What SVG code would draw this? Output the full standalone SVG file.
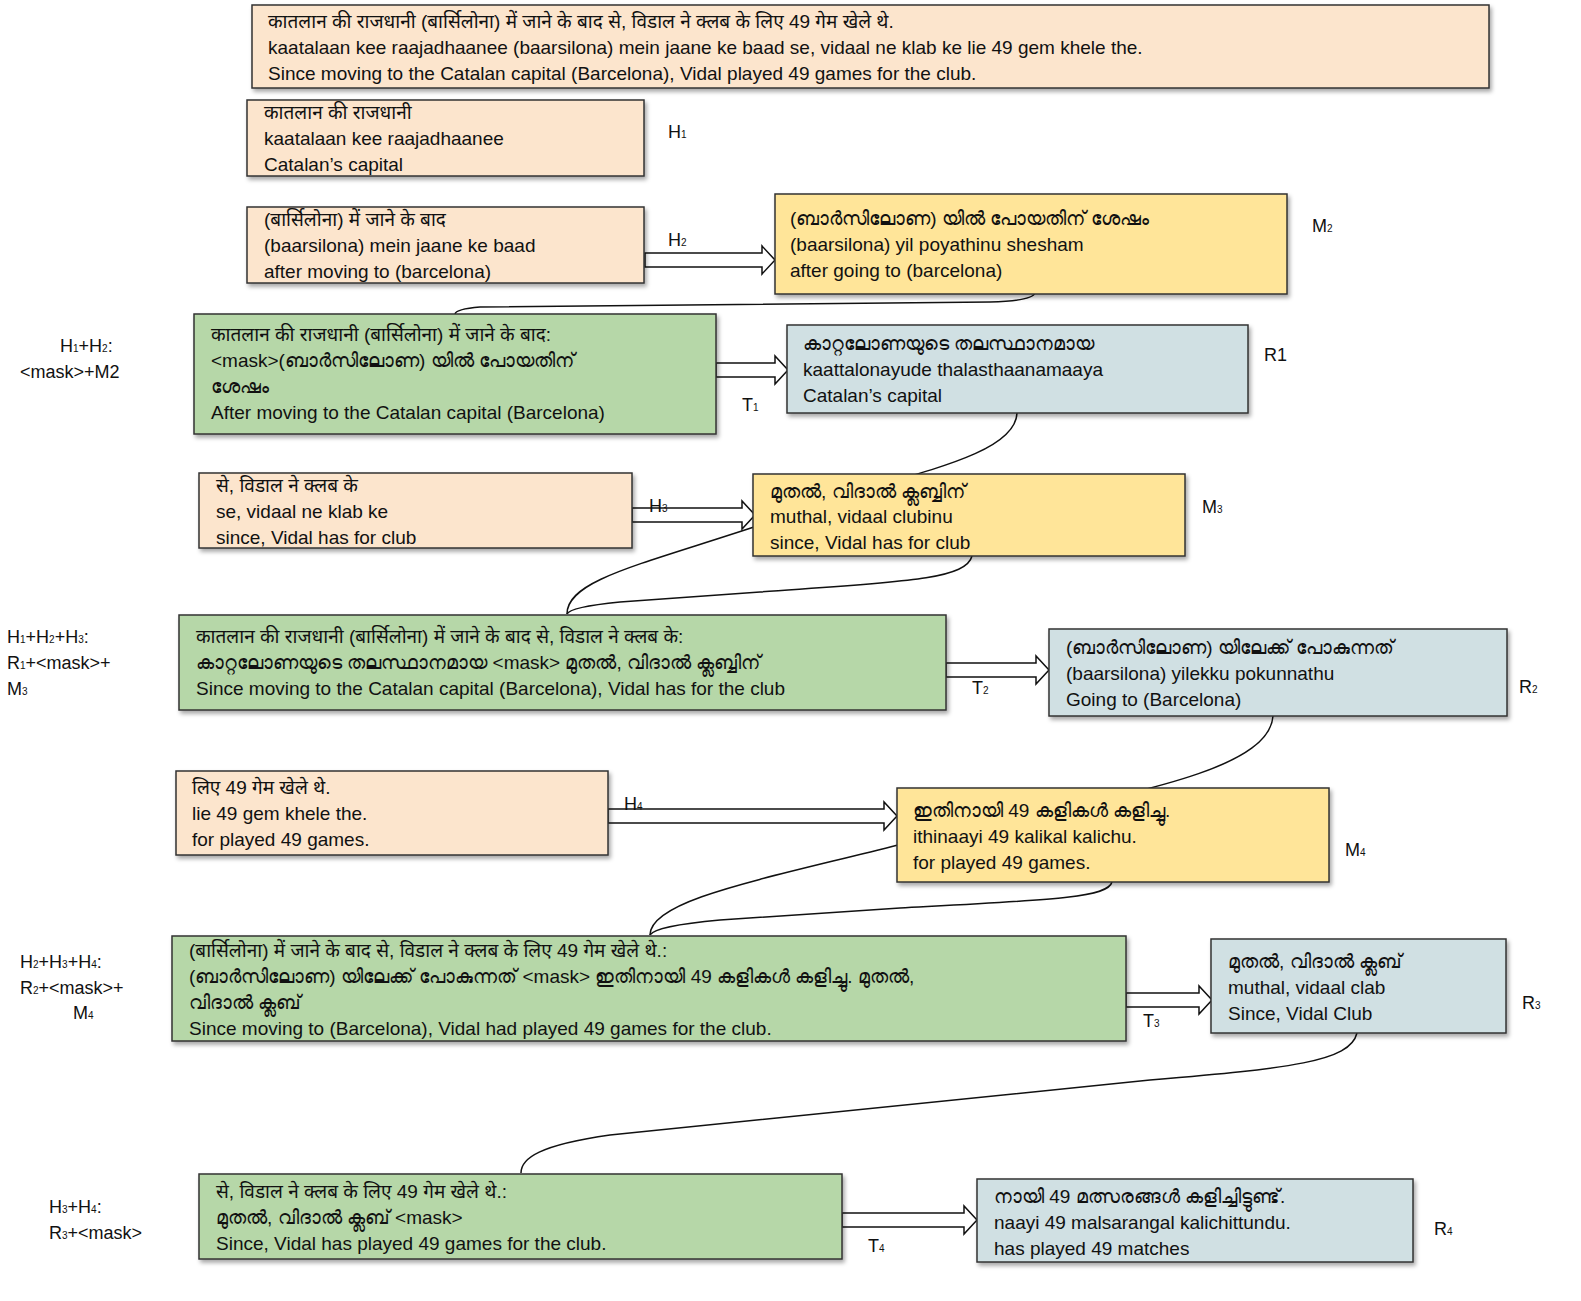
<svg xmlns="http://www.w3.org/2000/svg" width="1581" height="1301" viewBox="0 0 1581 1301">
<defs>
<filter id="sh" x="-5%" y="-10%" width="110%" height="130%"><feDropShadow dx="2" dy="3" stdDeviation="2" flood-color="#000" flood-opacity="0.35"/></filter>
</defs>
<style>
text{font-family:"Liberation Sans","Noto Sans",Arial,sans-serif;font-size:19px;fill:#111}
.lb{font-size:18px}
.sb{font-size:10px}
rect{stroke:#333;stroke-width:1.5;filter:url(#sh)}
.p{fill:#fce5cd}.y{fill:#ffe599}.g{fill:#b6d7a8}.b{fill:#d0e0e3}
.ar{fill:#fff;stroke:#111;stroke-width:1.5}
.c{fill:none;stroke:#111;stroke-width:1.5}
</style>
<rect width="1581" height="1301" fill="#fff" style="filter:none;stroke:none"/>
<g id="connectors">
<polygon class="ar" points="645,253 762,253 762,246 775,260 762,274 762,267 645,267"/>
<polygon class="ar" points="716,363 775,363 775,356 788,370 775,384 775,377 716,377"/>
<polygon class="ar" points="632,508 742,508 742,501 755,515 742,529 742,522 632,522"/>
<polygon class="ar" points="946,663 1036,663 1036,656 1049,670 1036,684 1036,677 946,677"/>
<polygon class="ar" points="608,809 884,809 884,802 897,816 884,830 884,823 608,823"/>
<polygon class="ar" points="1126,993 1199,993 1199,986 1212,1000 1199,1014 1199,1007 1126,1007"/>
<polygon class="ar" points="842,1213 964,1213 964,1206 977,1220 964,1234 964,1227 842,1227"/>
<path class="c" d="M1035,293 Q1032,301 990,302 L480,307 Q456,309 455,314"/>
<path class="c" d="M1017,413 C1015,465 860,480 760,525 C640,565 567,580 567,614"/>
<path class="c" d="M972,556 C966,580 900,582 760,592 L620,602 Q570,607 567,614"/>
<path class="c" d="M1273,716 C1268,780 1080,800 898,845 C760,880 650,900 650,935"/>
<path class="c" d="M1112,882 C1108,898 1050,900 900,908 L720,920 Q655,926 650,935"/>
<path class="c" d="M1357,1033 C1350,1062 1290,1068 1150,1080 L610,1135 C540,1145 521,1158 521,1173"/>
</g>
<g id="top"><rect class="p" x="252" y="5" width="1237" height="83"/>
<text x="268" y="28">कातलान की राजधानी (बार्सिलोना) में जाने के बाद से, विडाल ने क्लब के लिए 49 गेम खेले थे.</text>
<text x="268" y="54">kaatalaan kee raajadhaanee (baarsilona) mein jaane ke baad se, vidaal ne klab ke lie 49 gem khele the.</text>
<text x="268" y="80">Since moving to the Catalan capital (Barcelona), Vidal played 49 games for the club.</text></g>
<g id="H1"><rect class="p" x="247" y="100" width="397" height="76"/>
<text x="264" y="119">कातलान की राजधानी</text><text x="264" y="145">kaatalaan kee raajadhaanee</text><text x="264" y="171">Catalan’s capital</text>
<text class="lb" x="668" y="138">H<tspan class="sb">1</tspan></text></g>
<g id="H2"><rect class="p" x="247" y="207" width="397" height="76"/>
<text x="264" y="226">(बार्सिलोना) में जाने के बाद</text><text x="264" y="252">(baarsilona) mein jaane ke baad</text><text x="264" y="278">after moving to (barcelona)</text>
<text class="lb" x="668" y="246">H<tspan class="sb">2</tspan></text></g>
<g id="M2"><rect class="y" x="775" y="194" width="512" height="100"/>
<text x="790" y="225">(ബാർസിലോണ) യിൽ പോയതിന് ശേഷം</text><text x="790" y="251">(baarsilona) yil poyathinu shesham</text><text x="790" y="277">after going to (barcelona)</text>
<text class="lb" x="1312" y="232">M<tspan class="sb">2</tspan></text></g>
<g id="G1"><rect class="g" x="194" y="314" width="522" height="120"/>
<text x="211" y="341">कातलान की राजधानी (बार्सिलोना) में जाने के बाद:</text><text x="211" y="367">&lt;mask&gt;(ബാർസിലോണ) യിൽ പോയതിന്</text><text x="211" y="393">ശേഷം</text><text x="211" y="419">After moving to the Catalan capital (Barcelona)</text>
<text class="lb" x="60" y="352">H<tspan class="sb">1</tspan>+H<tspan class="sb">2</tspan>:</text><text class="lb" x="20" y="378">&lt;mask&gt;+M2</text>
<text class="lb" x="742" y="411">T<tspan class="sb">1</tspan></text></g>
<g id="R1"><rect class="b" x="787" y="325" width="461" height="88"/>
<text x="803" y="350">കാറ്റലോണയുടെ തലസ്ഥാനമായ</text><text x="803" y="376">kaattalonayude thalasthaanamaaya</text><text x="803" y="402">Catalan’s capital</text>
<text class="lb" x="1264" y="361">R1</text></g>
<g id="H3"><rect class="p" x="199" y="473" width="433" height="75"/>
<text x="216" y="492">से, विडाल ने क्लब के</text><text x="216" y="518">se, vidaal ne klab ke</text><text x="216" y="544">since, Vidal has for club</text>
<text class="lb" x="649" y="512">H<tspan class="sb">3</tspan></text></g>
<g id="M3"><rect class="y" x="753" y="474" width="432" height="82"/>
<text x="770" y="498">മുതൽ, വിദാൽ ക്ലബ്ബിന്</text><text x="770" y="523">muthal, vidaal clubinu</text><text x="770" y="549">since, Vidal has for club</text>
<text class="lb" x="1202" y="513">M<tspan class="sb">3</tspan></text></g>
<g id="G2"><rect class="g" x="179" y="615" width="767" height="95"/>
<text x="196" y="643">कातलान की राजधानी (बार्सिलोना) में जाने के बाद से, विडाल ने क्लब के:</text><text x="196" y="669">കാറ്റലോണയുടെ തലസ്ഥാനമായ &lt;mask&gt; മുതൽ, വിദാൽ ക്ലബ്ബിന്</text><text x="196" y="695">Since moving to the Catalan capital (Barcelona), Vidal has for the club</text>
<text class="lb" x="7" y="643">H<tspan class="sb">1</tspan>+H<tspan class="sb">2</tspan>+H<tspan class="sb">3</tspan>:</text><text class="lb" x="7" y="669">R<tspan class="sb">1</tspan>+&lt;mask&gt;+</text><text class="lb" x="7" y="695">M<tspan class="sb">3</tspan></text>
<text class="lb" x="972" y="694">T<tspan class="sb">2</tspan></text></g>
<g id="R2"><rect class="b" x="1049" y="629" width="458" height="87"/>
<text x="1066" y="654">(ബാർസിലോണ) യിലേക്ക് പോകുന്നത്</text><text x="1066" y="680">(baarsilona) yilekku pokunnathu</text><text x="1066" y="706">Going to (Barcelona)</text>
<text class="lb" x="1519" y="693">R<tspan class="sb">2</tspan></text></g>
<g id="H4"><rect class="p" x="176" y="771" width="432" height="84"/>
<text x="192" y="794">लिए 49 गेम खेले थे.</text><text x="192" y="820">lie 49 gem khele the.</text><text x="192" y="846">for played 49 games.</text>
<text class="lb" x="624" y="810">H<tspan class="sb">4</tspan></text></g>
<g id="M4"><rect class="y" x="897" y="788" width="432" height="94"/>
<text x="913" y="817">ഇതിനായി 49 കളികൾ കളിച്ചു.</text><text x="913" y="843">ithinaayi 49 kalikal kalichu.</text><text x="913" y="869">for played 49 games.</text>
<text class="lb" x="1345" y="856">M<tspan class="sb">4</tspan></text></g>
<g id="G3"><rect class="g" x="172" y="936" width="954" height="105"/>
<text x="189" y="957">(बार्सिलोना) में जाने के बाद से, विडाल ने क्लब के लिए 49 गेम खेले थे.:</text><text x="189" y="983">(ബാർസിലോണ) യിലേക്ക് പോകുന്നത് &lt;mask&gt; ഇതിനായി 49 കളികൾ കളിച്ചു.  മുതൽ,</text><text x="189" y="1009">വിദാൽ ക്ലബ്</text><text x="189" y="1035">Since moving to (Barcelona), Vidal had played 49 games for the club.</text>
<text class="lb" x="20" y="968">H<tspan class="sb">2</tspan>+H<tspan class="sb">3</tspan>+H<tspan class="sb">4</tspan>:</text><text class="lb" x="20" y="994">R<tspan class="sb">2</tspan>+&lt;mask&gt;+</text><text class="lb" x="73" y="1019">M<tspan class="sb">4</tspan></text>
<text class="lb" x="1143" y="1027">T<tspan class="sb">3</tspan></text></g>
<g id="R3"><rect class="b" x="1211" y="939" width="295" height="94"/>
<text x="1228" y="968">മുതൽ, വിദാൽ ക്ലബ്</text><text x="1228" y="994">muthal, vidaal clab</text><text x="1228" y="1020">Since, Vidal Club</text>
<text class="lb" x="1522" y="1009">R<tspan class="sb">3</tspan></text></g>
<g id="G4"><rect class="g" x="199" y="1174" width="643" height="85"/>
<text x="216" y="1198">से, विडाल ने क्लब के लिए 49 गेम खेले थे.:</text><text x="216" y="1224">മുതൽ, വിദാൽ ക്ലബ് &lt;mask&gt;</text><text x="216" y="1250">Since, Vidal has played 49 games for the club.</text>
<text class="lb" x="49" y="1213">H<tspan class="sb">3</tspan>+H<tspan class="sb">4</tspan>:</text><text class="lb" x="49" y="1239">R<tspan class="sb">3</tspan>+&lt;mask&gt;</text>
<text class="lb" x="868" y="1252">T<tspan class="sb">4</tspan></text></g>
<g id="R4"><rect class="b" x="977" y="1179" width="436" height="83"/>
<text x="994" y="1203">നായി 49 മത്സരങ്ങൾ കളിച്ചിട്ടുണ്ട്.</text><text x="994" y="1229">naayi 49 malsarangal kalichittundu.</text><text x="994" y="1255">has played 49 matches</text>
<text class="lb" x="1434" y="1235">R<tspan class="sb">4</tspan></text></g>
</svg>
